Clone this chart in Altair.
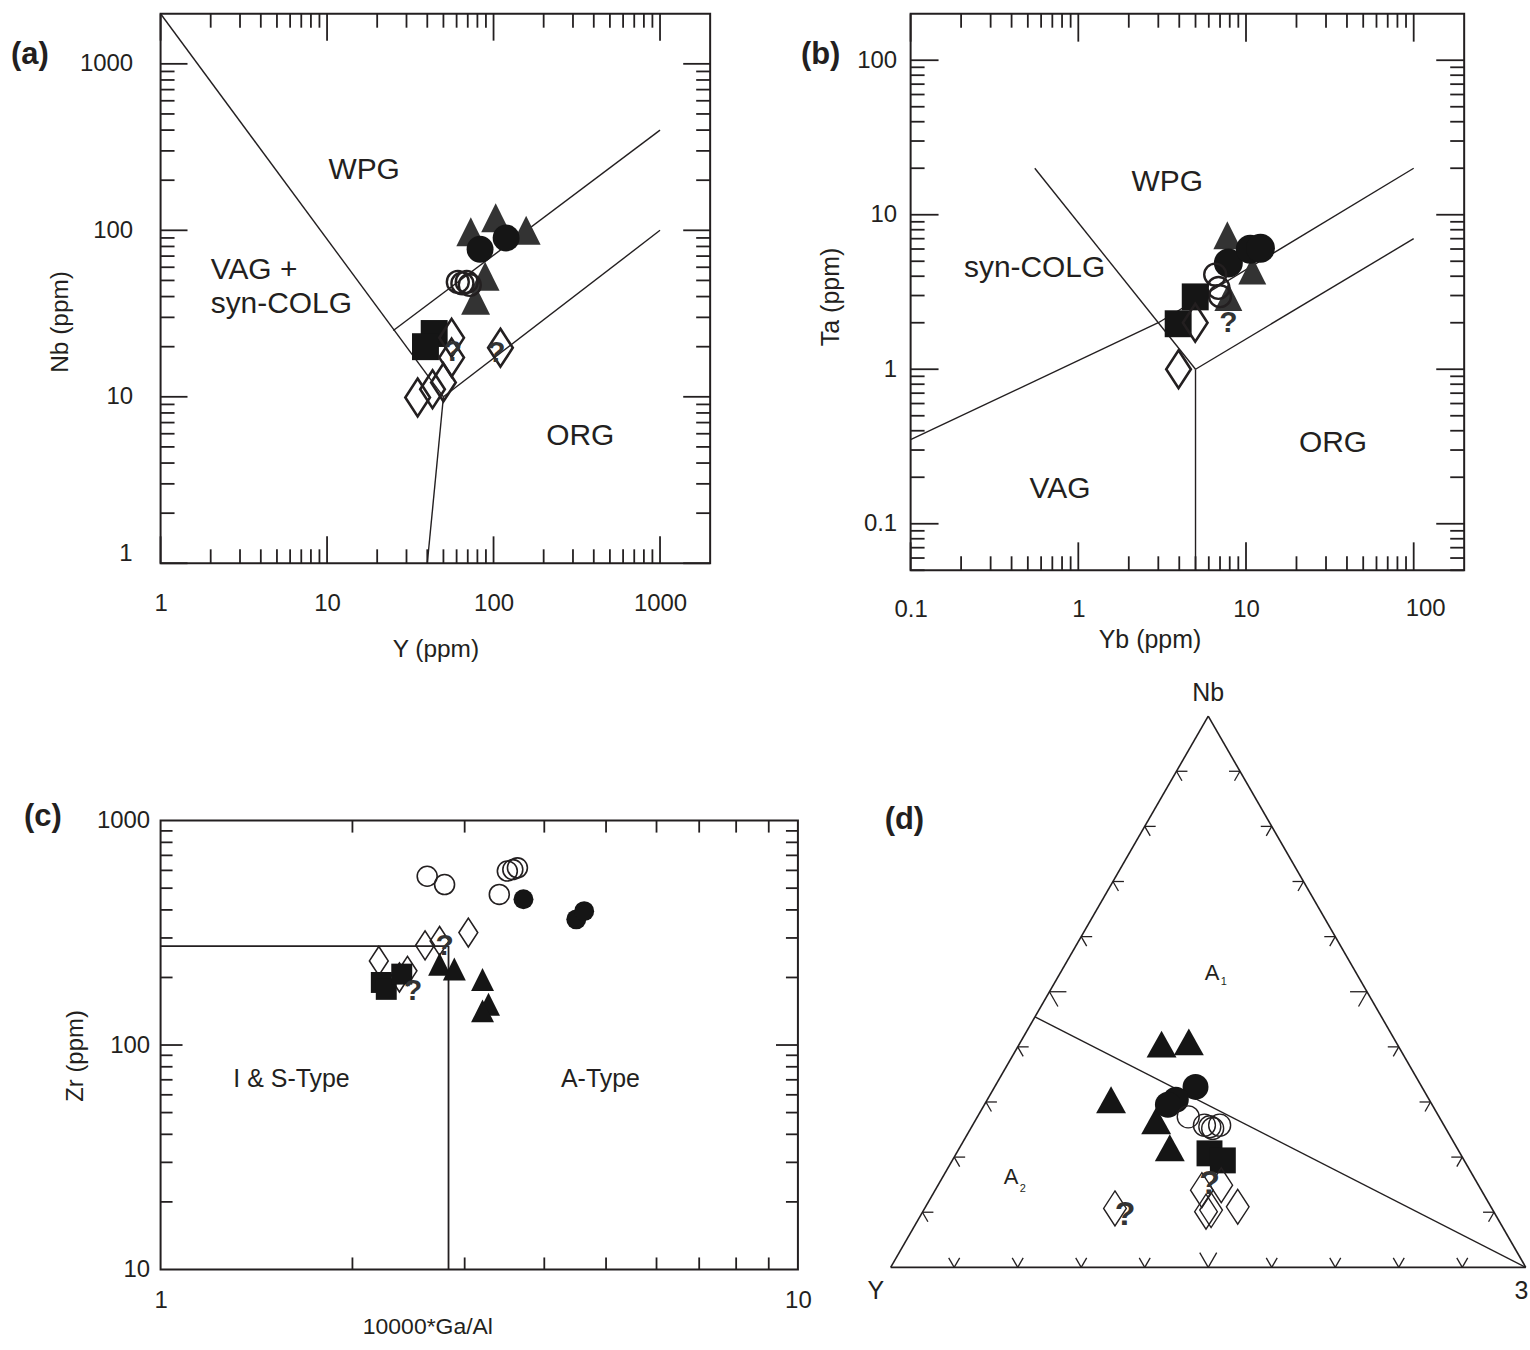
import altair as alt
import pandas as pd

FONT = "Liberation Sans"
INK = "#231f20"
GREY = "#333333"
BLACK = "#151515"

TRIANGLE = "M0,-1L1,1L-1,1Z"
TRIANGLE_D = "M0,-0.9L1,0.9L-1,0.9Z"
DIAMOND = "M0,-1L0.65,0L0,1L-0.65,0Z"

# ---------------- (a) Nb vs Y (ppm) ----------------
a_tri_y, a_tri_nb = [73, 103, 157, 89, 78], [98, 119, 100, 53, 38]
a_dot_y, a_dot_nb = [83, 119], [77, 90]
a_ring_y, a_ring_nb = [61, 65, 69, 72], [49, 48, 49, 47]
a_sq_y, a_sq_nb = [44, 39], [24, 20]
a_dia_y = [56, 56, 35, 43, 50, 110]
a_dia_nb = [22.6, 17.2, 9.9, 11.1, 12.2, 19.7]
a_q_y, a_q_nb = [57, 104], [18.7, 18.4]

# field boundaries (Pearce et al., 1984)
a_bx1, a_by1 = [1, 50, 50, 25], [2000, 10, 10, 25]
a_bx2, a_by2 = [50, 40, 1000, 1000], [10, 1, 100, 400]

a_major = [1, 10, 100, 1000]
a_minor = [m * 10 ** k for k in range(0, 4) for m in range(2, 10) if m * 10 ** k < 2000]

# ---------------- (b) Ta vs Yb (ppm) ----------------
b_tri_yb, b_tri_ta = [7.74, 10.9, 7.85], [7.36, 4.35, 2.93]
b_dot_yb, b_dot_ta = [7.85, 10.6, 12.2], [4.87, 5.98, 6.07]
b_ring_yb, b_ring_ta = [6.55, 6.85, 7.0], [4.1, 3.36, 2.97]
b_sq_yb, b_sq_ta = [4.98, 3.94], [2.94, 1.97]
b_dia_yb, b_dia_ta = [4.98, 3.96], [2.0, 1.0]
b_q_yb, b_q_ta = [7.85], [2.0]

b_bx1, b_by1 = [0.55, 0.1, 3, 5, 5], [20, 0.35, 2, 1, 0.05]
b_bx2, b_by2 = [5, 3, 100, 100, 5], [1, 2, 20, 7, 1]

b_x_major = [0.1, 1, 10, 100]
b_x_minor = [round(m * 10.0 ** k, 6) for k in range(-1, 3) for m in range(2, 10) if m * 10.0 ** k < 200]
b_y_major = [0.1, 1, 10, 100]
b_y_minor = [round(m * 10.0 ** k, 6) for k in range(-2, 3) for m in range(2, 10)
             if 0.05 <= m * 10.0 ** k < 200]

# ---------------- (c) Zr vs 10000*Ga/Al ----------------
c_ring_ga, c_ring_zr = [2.62, 2.79, 3.40, 3.50, 3.57, 3.63], [565, 519, 469, 596, 605, 616]
c_dot_ga, c_dot_zr = [3.71, 4.49, 4.62], [446, 363, 395]
c_dia_ga, c_dia_zr = [3.04, 2.60, 2.74, 2.20, 2.44, 2.37], [317, 278, 291, 237, 214, 200]
c_tri_ga, c_tri_zr = [2.74, 2.89, 3.20, 3.27, 3.20], [229, 218, 196, 152, 142]
c_sq_ga, c_sq_zr = [2.22, 2.26, 2.39], [190, 177, 207]
c_q_ga, c_q_zr = [2.49, 2.79], [174, 275]

c_bx1, c_by1 = [1, 2.83], [276, 10]
c_bx2, c_by2 = [2.83, 2.83], [276, 276]

c_x_minor = [2, 3, 4, 5, 6, 7, 8, 9]
c_y_major = [100]
c_y_minor = [20, 30, 40, 50, 60, 70, 80, 90, 200, 300, 400, 500, 600, 700, 800, 900]

# ---------------- (d) Nb - Y - 3 ternary (%) ----------------
d_tri_nb, d_tri_y, d_tri_g = [40.5, 40.9, 30.4, 26.6, 21.7], [37.1, 32.6, 50.1, 44.9, 45.2], [22.4, 26.5, 19.5, 28.5, 33.1]
d_dot_nb, d_dot_y, d_dot_g = [32.7, 30.4, 29.5], [35.6, 39.9, 41.6], [31.6, 29.7, 28.9]
d_ring_nb, d_ring_y, d_ring_g = [27.3, 25.8, 25.5, 25.8, 25.2], [39.5, 37.7, 37.0, 35.3, 36.7], [33.2, 36.5, 37.5, 38.9, 38.1]
d_sq_nb, d_sq_y, d_sq_g = [20.7, 19.4], [39.5, 38.0], [39.9, 42.6]
d_dia_nb = [14.0, 14.9, 10.1, 10.4, 11.0, 10.7]
d_dia_y = [44.0, 40.5, 45.3, 44.4, 39.9, 59.4]
d_dia_g = [42.0, 44.6, 44.6, 45.3, 49.2, 30.0]
d_q_nb, d_q_y, d_q_g = [15.2, 9.4], [42.2, 58.4], [42.6, 32.2]
d_bound_nb, d_bound_y, d_bound_g = [45.45, 0], [54.55, 0], [0, 100]
d_tick_f = [0.1, 0.2, 0.3, 0.4, 0.5, 0.6, 0.7, 0.8, 0.9]

U = alt.Undefined


# ---------------- helpers ----------------
def axis(values, pad, size=24):
    return alt.Axis(values=values, format="~g", labelFont=FONT, labelFontSize=size,
                    labelColor=INK, labelPadding=pad, labelFlush=False, labelOverlap=False,
                    ticks=False, domain=False, grid=False, title=None)


def segments(x1, y1, x2, y2, xs, ys, ax_x=U, ax_y=U, sw=1.4):
    df = pd.DataFrame({"x1": x1, "y1": y1, "x2": x2, "y2": y2})
    return alt.Chart(df).mark_rule(color=INK, strokeWidth=sw).encode(
        x=alt.X("x1:Q", scale=xs, axis=ax_x),
        y=alt.Y("y1:Q", scale=ys, axis=ax_y),
        x2="x2:Q", y2="y2:Q")


def symbols(xv, yv, xs, ys, shape, size, color, filled, sw=2.0, ax=U):
    df = pd.DataFrame({"x": xv, "y": yv})
    mark = alt.Chart(df).mark_point(shape=shape, size=size, filled=filled, color=color,
                                    opacity=1, strokeWidth=(0 if filled else sw))
    return mark.encode(x=alt.X("x:Q", scale=xs, axis=ax), y=alt.Y("y:Q", scale=ys, axis=ax))


def qmarks(xv, yv, xs, ys, size, ax=U):
    df = pd.DataFrame({"x": xv, "y": yv, "t": ["?"] * len(xv)})
    return alt.Chart(df).mark_text(font=FONT, fontSize=size, fontWeight="bold", color=GREY,
                                   baseline="middle").encode(
        x=alt.X("x:Q", scale=xs, axis=ax), y=alt.Y("y:Q", scale=ys, axis=ax), text="t:N")


def labels(names, xv, yv, xs, ys, size, align="center", ax=U):
    df = pd.DataFrame({"x": xv, "y": yv, "t": names})
    return alt.Chart(df).mark_text(font=FONT, fontSize=size, color=INK, align=align,
                                   baseline="middle").encode(
        x=alt.X("x:Q", scale=xs, axis=ax), y=alt.Y("y:Q", scale=ys, axis=ax), text="t:N")


def ptext(txt, x, y, size, angle=0, weight="normal", align="center"):
    df = pd.DataFrame({"t": [txt]})
    return alt.Chart(df).mark_text(font=FONT, fontSize=size, fontWeight=weight, color=INK,
                                   angle=angle, align=align, baseline="middle").encode(
        x=alt.value(x), y=alt.value(y), text="t:N")


def frame_ticks(xs, ys, W, H, xvals, yvals, L, sw=1.8):
    out = []
    if xvals:
        dx = pd.DataFrame({"v": xvals})
        X = alt.X("v:Q", scale=xs)
        out.append(alt.Chart(dx).mark_rule(color=INK, strokeWidth=sw).encode(
            x=X, y=alt.value(H), y2=alt.value(H - L)))
        out.append(alt.Chart(dx).mark_rule(color=INK, strokeWidth=sw).encode(
            x=X, y=alt.value(0), y2=alt.value(L)))
    if yvals:
        dy = pd.DataFrame({"v": yvals})
        Y = alt.Y("v:Q", scale=ys)
        out.append(alt.Chart(dy).mark_rule(color=INK, strokeWidth=sw).encode(
            y=Y, x=alt.value(0), x2=alt.value(L)))
        out.append(alt.Chart(dy).mark_rule(color=INK, strokeWidth=sw).encode(
            y=Y, x=alt.value(W), x2=alt.value(W - L)))
    return out


# ---------------- panel (a) ----------------
WA, HA = 551, 551
xs_a = alt.Scale(type="log", domain=[1, 2000], nice=False)
ys_a = alt.Scale(type="log", domain=[1, 2000], nice=False)
panel_a = alt.layer(
    segments(a_bx1, a_by1, a_bx2, a_by2, xs_a, ys_a,
             ax_x=axis(a_major, 28), ax_y=axis(a_major[1:], 28)),
    *frame_ticks(xs_a, ys_a, WA, HA, a_major, a_major, 27),
    *frame_ticks(xs_a, ys_a, WA, HA, a_minor, a_minor, 14),
    symbols(a_tri_y, a_tri_nb, xs_a, ys_a, TRIANGLE, 841, GREY, True),
    symbols(a_dot_y, a_dot_nb, xs_a, ys_a, "circle", 729, BLACK, True),
    symbols(a_ring_y, a_ring_nb, xs_a, ys_a, "circle", 484, INK, False, 2.4),
    symbols(a_sq_y, a_sq_nb, xs_a, ys_a, "square", 729, BLACK, True),
    symbols(a_dia_y, a_dia_nb, xs_a, ys_a, DIAMOND, 1444, INK, False, 2.6),
    qmarks(a_q_y, a_q_nb, xs_a, ys_a, 30),
    labels(["WPG", "ORG"], [16.7, 332], [229, 5.84], xs_a, ys_a, 30),
    labels(["VAG +", "syn-COLG"], [2.0, 2.0], [57.6, 36.1], xs_a, ys_a, 30, align="left"),
    alt.Chart(pd.DataFrame({"v": [1], "t": ["1"]})).mark_text(
        font=FONT, fontSize=24, color=INK, align="right", baseline="middle", dy=-9).encode(
        x=alt.value(-28), y=alt.Y("v:Q", scale=ys_a), text="t:N"),
    ptext("Nb (ppm)", -100, 309, 24.5, angle=270),
    ptext("Y (ppm)", 276, 638, 24.5),
    ptext("(a)", -150, 41, 31, weight="bold", align="left"),
).properties(width=WA, height=HA)

# ---------------- panel (b) ----------------
WB, HB = 555, 558
xs_b = alt.Scale(type="log", domain=[0.1, 200], nice=False)
ys_b = alt.Scale(type="log", domain=[0.05, 200], nice=False)
panel_b = alt.layer(
    segments(b_bx1, b_by1, b_bx2, b_by2, xs_b, ys_b,
             ax_x=axis(b_x_major[:-1], 27), ax_y=axis(b_y_major, 14)),
    *frame_ticks(xs_b, ys_b, WB, HB, b_x_major, b_y_major, 28),
    *frame_ticks(xs_b, ys_b, WB, HB, b_x_minor, b_y_minor, 14),
    symbols(b_tri_yb, b_tri_ta, xs_b, ys_b, TRIANGLE, 784, GREY, True),
    symbols(b_dot_yb, b_dot_ta, xs_b, ys_b, "circle", 841, BLACK, True),
    symbols(b_ring_yb, b_ring_ta, xs_b, ys_b, "circle", 484, INK, False, 2.4),
    symbols(b_sq_yb, b_sq_ta, xs_b, ys_b, "square", 729, BLACK, True),
    symbols(b_dia_yb, b_dia_ta, xs_b, ys_b, DIAMOND, 1444, INK, False, 2.6),
    qmarks(b_q_yb, b_q_ta, xs_b, ys_b, 30),
    labels(["WPG", "syn-COLG", "ORG", "VAG"], [3.39, 0.549, 33.0, 0.778],
           [16.4, 4.5, 0.334, 0.169], xs_b, ys_b, 30),
    alt.Chart(pd.DataFrame({"v": [100], "t": ["100"]})).mark_text(
        font=FONT, fontSize=24, color=INK, align="center", baseline="top", dx=12).encode(
        x=alt.X("v:Q", scale=xs_b), y=alt.value(HB + 27), text="t:N"),
    ptext("Ta (ppm)", -80, 284, 25, angle=270),
    ptext("Yb (ppm)", 240, 628, 25),
    ptext("(b)", -110, 41, 31, weight="bold", align="left"),
).properties(width=WB, height=HB)

# ---------------- panel (c) ----------------
WC, HC = 639, 450
xs_c = alt.Scale(type="log", domain=[1, 10], nice=False)
ys_c = alt.Scale(type="log", domain=[10, 1000], nice=False)
panel_c = alt.layer(
    segments(c_bx1, c_by1, c_bx2, c_by2, xs_c, ys_c,
             ax_x=axis([1, 10], 19), ax_y=axis([10, 100, 1000], 11), sw=1.8),
    *frame_ticks(xs_c, ys_c, WC, HC, [], c_y_major, 22),
    *frame_ticks(xs_c, ys_c, WC, HC, c_x_minor, c_y_minor, 12),
    symbols(c_ring_ga, c_ring_zr, xs_c, ys_c, "circle", 400, INK, False, 1.6),
    symbols(c_dot_ga, c_dot_zr, xs_c, ys_c, "circle", 400, BLACK, True),
    symbols(c_dia_ga, c_dia_zr, xs_c, ys_c, DIAMOND, 841, INK, False, 1.6),
    symbols(c_tri_ga, c_tri_zr, xs_c, ys_c, TRIANGLE, 529, BLACK, True),
    symbols(c_sq_ga, c_sq_zr, xs_c, ys_c, "square", 441, BLACK, True),
    qmarks(c_q_ga, c_q_zr, xs_c, ys_c, 30),
    labels(["I & S-Type", "A-Type"], [1.605, 4.9], [70.2, 70.2], xs_c, ys_c, 25),
    ptext("Zr (ppm)", -85, 236, 24, angle=270),
    ptext("10000*Ga/Al", 268, 508, 23),
    ptext("(c)", -137, -4, 31, weight="bold", align="left"),
).properties(width=WC, height=HC)

# ---------------- panel (d) ----------------
WD, HD = 555, 450
SQ3 = 3 ** 0.5 / 2


def tern(nb, yy, g):
    px, py = [], []
    for a, b, c in zip(nb, yy, g):
        s = a + b + c
        px.append((c + a / 2) / s)
        py.append(a * SQ3 / s)
    return px, py


xs_d = alt.Scale(domain=[0.0314, 0.9030], nice=False, zero=False)
ys_d = alt.Scale(domain=[-0.0033, 0.7019], nice=False, zero=False)

edge_x1, edge_y1 = [0, 1, 0.5], [0, 0, SQ3]
edge_x2, edge_y2 = [1, 0.5, 0], [0, SQ3, 0]
bx, by = tern(d_bound_nb, d_bound_y, d_bound_g)

tick_rows = []
for f in d_tick_f:
    L = (17 if abs(f - 0.5) < 1e-9 else 11) / 637
    for (p0, p1), dirs in [((f, 0.0), [(-0.5, SQ3), (0.5, SQ3)]),
                           ((f / 2, f * SQ3), [(1.0, 0.0), (0.5, -SQ3)]),
                           ((1 - f / 2, f * SQ3), [(-1.0, 0.0), (-0.5, -SQ3)])]:
        for ux, uy in dirs:
            tick_rows.append((p0, p1, p0 + L * ux, p1 + L * uy))
tk = list(zip(*tick_rows))


def tsym(nb, yy, g, shape, size, color, filled, sw=1.5):
    px, py = tern(nb, yy, g)
    return symbols(px, py, xs_d, ys_d, shape, size, color, filled, sw, ax=None)


qx, qy = tern(d_q_nb, d_q_y, d_q_g)
panel_d = alt.layer(
    segments(edge_x1, edge_y1, edge_x2, edge_y2, xs_d, ys_d, ax_x=None, ax_y=None, sw=1.6),
    segments([bx[0]], [by[0]], [bx[1]], [by[1]], xs_d, ys_d, ax_x=None, ax_y=None, sw=1.4),
    segments(list(tk[0]), list(tk[1]), list(tk[2]), list(tk[3]), xs_d, ys_d,
             ax_x=None, ax_y=None, sw=1.3),
    tsym(d_tri_nb, d_tri_y, d_tri_g, TRIANGLE_D, 900, BLACK, True),
    tsym(d_dot_nb, d_dot_y, d_dot_g, "circle", 676, BLACK, True),
    tsym(d_ring_nb, d_ring_y, d_ring_g, "circle", 484, INK, False, 1.4),
    tsym(d_sq_nb, d_sq_y, d_sq_g, "square", 676, BLACK, True),
    tsym(d_dia_nb, d_dia_y, d_dia_g, DIAMOND, 1225, INK, False, 1.4),
    qmarks(qx, qy, xs_d, ys_d, 34, ax=None),
    labels(["Nb", "Y", "3"], [0.5, -0.0236, 0.9933], [0.903, -0.038, -0.038], xs_d, ys_d, 25, ax=None),
    labels(["A", "A"], [0.5061, 0.1895], [0.4625, 0.1417], xs_d, ys_d, 22, ax=None),
    labels(["1", "2"], [0.5245, 0.2081], [0.4488, 0.1236], xs_d, ys_d, 11, ax=None),
    ptext("(d)", -26, -1, 31, weight="bold", align="left"),
).properties(width=WD, height=HD, view=alt.ViewBackground(stroke="transparent"))

chart = alt.concat(
    panel_a, panel_b, panel_c, panel_d,
    columns=2, spacing={"row": 251, "column": 113}, bounds="flush",
).properties(
    padding={"left": 10, "top": 10, "right": 0, "bottom": 0}, background="white"
).configure_view(stroke=INK, strokeWidth=2).configure_axis(labelFont=FONT, labelColor=INK)

chart.save("out.html", embed_options={"renderer": "svg", "actions": False})
